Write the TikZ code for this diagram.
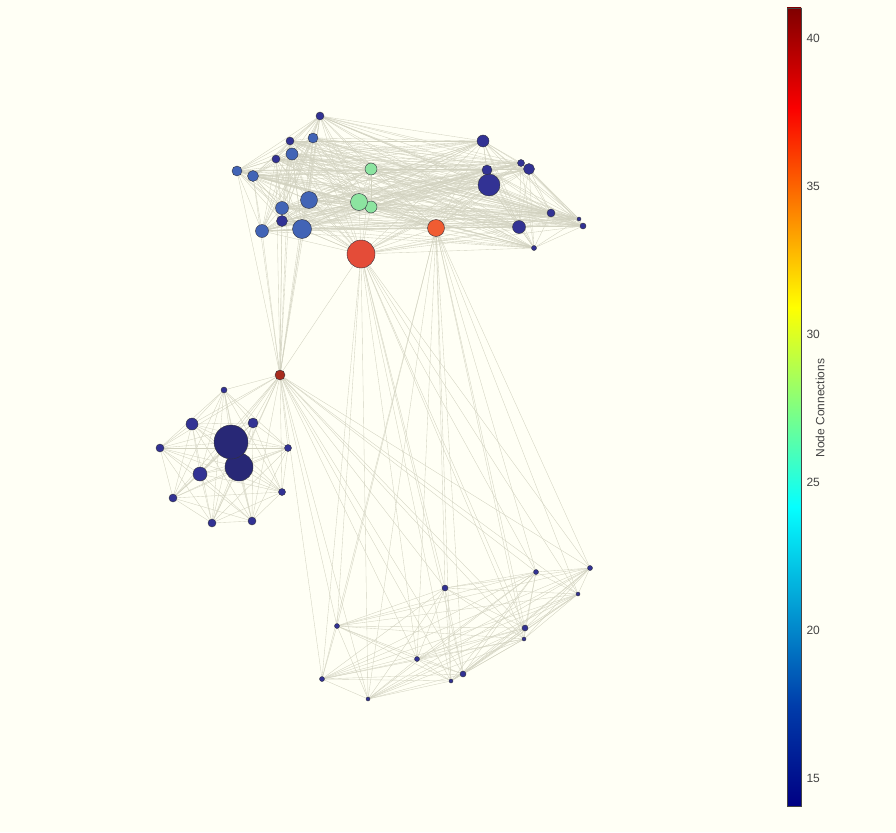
\documentclass[tikz,border=0pt]{standalone}
\usepackage{fontspec}
\setmainfont{Liberation Sans}

\pgfdeclarelayer{back}
\pgfdeclarelayer{edges}
\pgfsetlayers{back,edges,main}

\definecolor{bgcol}{RGB}{255,255,245}
\definecolor{edgecol}{RGB}{210,210,192}
\definecolor{ndline}{RGB}{50,50,60}
\definecolor{txtcol}{RGB}{68,68,68}
\definecolor{cnavy}{RGB}{50,50,148}
\definecolor{cdeep}{RGB}{40,40,118}
\definecolor{cblue}{RGB}{66,100,182}
\definecolor{cgreen}{RGB}{140,228,160}
\definecolor{cred}{RGB}{228,76,56}
\definecolor{corange}{RGB}{240,92,50}
\definecolor{chub}{RGB}{168,44,30}
\definecolor{jeta}{RGB}{0,0,131}
\definecolor{jetb}{RGB}{0,60,170}
\definecolor{jetc}{RGB}{5,255,255}
\definecolor{jetd}{RGB}{255,255,0}
\definecolor{jete}{RGB}{250,0,0}
\definecolor{jetf}{RGB}{128,0,0}

\tikzset{
  nd/.style={circle,draw=ndline,line width=0.4pt,inner sep=0pt,minimum size=#1},
  lk/.style={draw=edgecol,line width=0.35pt},
  tick/.style={anchor=west,text=txtcol,font=\fontsize{12}{12}\selectfont},
}

\begin{document}
\begin{tikzpicture}[x=1pt,y=-1pt]
      \begin{pgfonlayer}{back}
      \fill [bgcol] (0,0) rectangle (896,832);
      \end{pgfonlayer}
      \useasboundingbox (0,0) rectangle (896,832);

      % top group
      \node [nd=8, fill=cnavy] (t1) at (320,116) {};
      \node [nd=8, fill=cnavy] (t2) at (290,141) {};
      \node [nd=10, fill=cblue] (t3) at (313,138) {};
      \node [nd=12, fill=cblue] (t4) at (292,154) {};
      \node [nd=8, fill=cnavy] (t5) at (276,159) {};
      \node [nd=10, fill=cblue] (t6) at (237,171) {};
      \node [nd=11, fill=cblue] (t7) at (253,176) {};
      \node [nd=12, fill=cgreen] (t8) at (371,169) {};
      \node [nd=17, fill=cblue] (t9) at (309,200) {};
      \node [nd=12, fill=cgreen] (t11) at (371,207) {};
      \node [nd=17, fill=cgreen] (t10) at (359,202) {};
      \node [nd=13, fill=cblue] (t12) at (282,208) {};
      \node [nd=11, fill=cnavy] (t13) at (282,221) {};
      \node [nd=13, fill=cblue] (t14) at (262,231) {};
      \node [nd=19, fill=cblue] (t15) at (302,229) {};
      \node [nd=28, fill=cred] (t16) at (361,254) {};
      \node [nd=17, fill=corange] (t17) at (436,228) {};
      \node [nd=12, fill=cnavy] (t18) at (483,141) {};
      \node [nd=10, fill=cnavy] (t19) at (487,170) {};
      \node [nd=22, fill=cnavy] (t20) at (489,185) {};
      \node [nd=7, fill=cnavy] (t21) at (521,163) {};
      \node [nd=11, fill=cnavy] (t22) at (529,169) {};
      \node [nd=8, fill=cnavy] (t23) at (551,213) {};
      \node [nd=4, fill=cnavy] (t24) at (579,219) {};
      \node [nd=6, fill=cnavy] (t25) at (583,226) {};
      \node [nd=13, fill=cnavy] (t26) at (519,227) {};
      \node [nd=5, fill=cnavy] (t27) at (534,248) {};

      % hub
      \node [nd=10, fill=chub] (h) at (280,375) {};

      % left group
      \node [nd=6, fill=cnavy] (l1) at (224,390) {};
      \node [nd=12, fill=cnavy] (l2) at (192,424) {};
      \node [nd=10, fill=cnavy] (l3) at (253,423) {};
      \node [nd=8, fill=cnavy] (l4) at (160,448) {};
      \node [nd=7, fill=cnavy] (l5) at (288,448) {};
      \node [nd=14, fill=cnavy] (l6) at (200,474) {};
      \node [nd=8, fill=cnavy] (l7) at (173,498) {};
      \node [nd=7, fill=cnavy] (l8) at (282,492) {};
      \node [nd=8, fill=cnavy] (l9) at (212,523) {};
      \node [nd=8, fill=cnavy] (l10) at (252,521) {};
      \node [nd=28, fill=cdeep] (l12) at (239,467) {};
      \node [nd=34, fill=cdeep] (l11) at (231,442) {};

      % bottom group
      \node [nd=6, fill=cnavy] (b1) at (445,588) {};
      \node [nd=5, fill=cnavy] (b2) at (536,572) {};
      \node [nd=5, fill=cnavy] (b3) at (590,568) {};
      \node [nd=4, fill=cnavy] (b4) at (578,594) {};
      \node [nd=5, fill=cnavy] (b5) at (337,626) {};
      \node [nd=6, fill=cnavy] (b6) at (525,628) {};
      \node [nd=4, fill=cnavy] (b7) at (524,639) {};
      \node [nd=5, fill=cnavy] (b8) at (417,659) {};
      \node [nd=5, fill=cnavy] (b9) at (322,679) {};
      \node [nd=6, fill=cnavy] (b10) at (463,674) {};
      \node [nd=4, fill=cnavy] (b11) at (451,681) {};
      \node [nd=4, fill=cnavy] (b12) at (368,699) {};

      \begin{pgfonlayer}{edges}
      \foreach \i in {1,...,26}{
        \pgfmathtruncatemacro\k{\i+1}
        \foreach \j in {\k,...,27} \draw [lk] (t\i) -- (t\j);
      }
      \foreach \i in {1,...,11}{
        \pgfmathtruncatemacro\k{\i+1}
        \foreach \j in {\k,...,12} {
          \draw [lk] (l\i) -- (l\j);
          \draw [lk] (b\i) -- (b\j);
        }
      }
      \foreach \n in {1,2,3,4,5,6,7,9,12,13,14,15,16} \draw [lk] (h) -- (t\n);
      \foreach \n in {1,...,12}{
        \draw [lk] (h) -- (l\n);
        \draw [lk] (h) -- (b\n);
        \draw [lk] (t16) -- (b\n);
        \draw [lk] (t17) -- (b\n);
      }
      \end{pgfonlayer}

      % colour bar
      \shade [bottom color=jeta, top color=jetb] (787,806) rectangle (801,706.25);
      \shade [bottom color=jetb, top color=jetc] (787,706.25) rectangle (801,506.75);
      \shade [bottom color=jetc, top color=jetd] (787,506.75) rectangle (801,307.25);
      \shade [bottom color=jetd, top color=jete] (787,307.25) rectangle (801,107.75);
      \shade [bottom color=jete, top color=jetf] (787,107.75) rectangle (801,8);
      \draw [txtcol, line width=0.6pt] (787,8) rectangle (801,806);
      \foreach \v/\y in {15/778,20/630,25/482,30/334,35/186,40/38}
        \node [tick] (tk\v) at (803,\y) {\v};
      \node [rotate=90, text=txtcol, font=\fontsize{12}{12}\selectfont] (cbtitle) at (820,408) {Node Connections};
\end{tikzpicture}
\end{document}
